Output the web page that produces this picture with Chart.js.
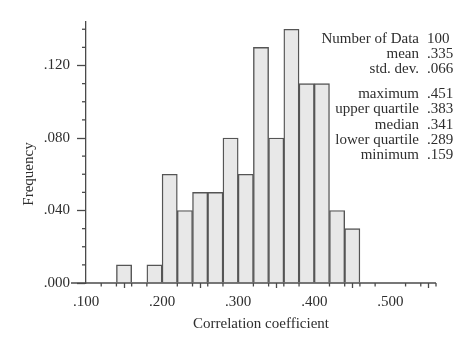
<!DOCTYPE html>
<html>
<head>
<meta charset="utf-8">
<script src="https://cdn.jsdelivr.net/npm/chart.js@4.4.1/dist/chart.umd.min.js"></script>
<style>
  html, body { margin: 0; padding: 0; background: #fff; }
  #wrap { width: 474px; height: 351px; }
</style>
</head>
<body>
<div id="wrap"><canvas id="histChart"></canvas></div>
<script>
// Histogram bins (lower edge, width .020) and relative frequencies
const binStarts = [0.14, 0.16, 0.18, 0.20, 0.22, 0.24, 0.26, 0.28, 0.30, 0.32, 0.34, 0.36, 0.38, 0.40, 0.42, 0.44];
const frequencies = [0.010, 0, 0.010, 0.060, 0.040, 0.050, 0.050, 0.080, 0.060, 0.130, 0.080, 0.140, 0.110, 0.110, 0.040, 0.030];
const binWidth = 0.02;

// Axis ticks
const xTickValues = [0.1, 0.2, 0.3, 0.4, 0.5];
const xTickLabels = ['.100', '.200', '.300', '.400', '.500'];
const yTickValues = [0, 0.04, 0.08, 0.12];
const yTickLabels = ['.000', '.040', '.080', '.120'];

// Summary statistics box
const statLabels = ['Number of Data', 'mean', 'std. dev.', 'maximum', 'upper quartile', 'median', 'lower quartile', 'minimum'];
const statValues = ['100', '.335', '.066', '.451', '.383', '.341', '.289', '.159'];

const AXIS_COLOR = '#4a4a4a';
const TEXT_COLOR = '#2e2e2e';
const FONT = '"Liberation Serif", "DejaVu Serif", serif';
const FONT_SIZE = 15;

const histData = binStarts.map((s, i) => ({ x: +(s + binWidth / 2).toFixed(3), y: frequencies[i] }));

// minor ticks, the extended zero line, stats text and y title
const decorPlugin = {
    id: 'decor',
    afterDraw(chart) {
        const ctx = chart.ctx;
        const xs = chart.scales.x;
        const ys = chart.scales.y;
        const area = chart.chartArea;
        ctx.save();
        ctx.strokeStyle = AXIS_COLOR;
        ctx.lineWidth = 1.3;

        // x-axis line running a bit left of the y-axis
        const y0 = ys.getPixelForValue(0);
        ctx.beginPath();
        ctx.moveTo(area.left - 15, y0);
        ctx.lineTo(area.right, y0);
        ctx.stroke();

        // minor ticks on x every .020
        for (let v = 0.12; v < 0.561; v += 0.02) {
            if (Math.abs(v * 10 - Math.round(v * 10)) < 1e-6) continue;
            const px = xs.getPixelForValue(v);
            ctx.beginPath();
            ctx.moveTo(px, y0);
            ctx.lineTo(px, y0 + 3.5);
            ctx.stroke();
        }
        // minor ticks on y every .010
        for (let v = 0.01; v < 0.145; v += 0.01) {
            if (Math.abs(v / 0.04 - Math.round(v / 0.04)) < 1e-6) continue;
            const py = ys.getPixelForValue(v);
            ctx.beginPath();
            ctx.moveTo(area.left, py);
            ctx.lineTo(area.left - 4, py);
            ctx.stroke();
        }

        // stats block
        ctx.fillStyle = TEXT_COLOR;
        ctx.font = FONT_SIZE + 'px ' + FONT;
        ctx.textBaseline = 'middle';
        const rows = [39, 54, 69, 94, 109, 125, 140, 155];
        statLabels.forEach((lab, i) => {
            ctx.textAlign = 'right';
            ctx.fillText(lab, 419, rows[i]);
            ctx.textAlign = 'left';
            ctx.fillText(statValues[i], 427, rows[i]);
        });

        // y axis title
        ctx.translate(29, 174);
        ctx.rotate(-Math.PI / 2);
        ctx.textAlign = 'center';
        ctx.fillText('Frequency', 0, 0);
        ctx.restore();
    }
};

const ctx = document.getElementById('histChart').getContext('2d');
const histChart = new Chart(ctx, {
    type: 'bar',
    data: {
        datasets: [{
            label: 'Frequency',
            data: histData,
            backgroundColor: '#e8e8e8',
            borderColor: '#555555',
            borderWidth: 1.4,
            barPercentage: 1,
            categoryPercentage: 1,
            borderSkipped: 'bottom'
        }]
    },
    options: {
        responsive: true,
        maintainAspectRatio: false,
        animation: false,
        layout: { padding: { top: 22, right: 38, bottom: 14, left: 0 } },
        plugins: {
            legend: { display: false },
            tooltip: { enabled: false }
        },
        scales: {
            x: {
                type: 'linear',
                min: 0.1,
                max: 0.56,
                offset: false,
                afterBuildTicks: (scale) => { scale.ticks = xTickValues.map(v => ({ value: v })); },
                afterFit: (scale) => { scale.height = 54; },
                ticks: {
                    callback: (v) => xTickLabels[xTickValues.findIndex(t => Math.abs(t - v) < 1e-6)],
                    color: TEXT_COLOR,
                    font: { family: FONT, size: FONT_SIZE },
                    padding: 5,
                    maxRotation: 0,
                    autoSkip: false
                },
                grid: {
                    drawOnChartArea: false,
                    tickLength: 5,
                    tickColor: AXIS_COLOR,
                    tickWidth: 1.3
                },
                border: { display: false },
                title: {
                    display: true,
                    text: 'Correlation coefficient',
                    color: TEXT_COLOR,
                    font: { family: FONT, size: FONT_SIZE },
                    padding: { top: 0, bottom: 4 }
                }
            },
            y: {
                min: 0,
                max: 0.144,
                afterBuildTicks: (scale) => { scale.ticks = yTickValues.map(v => ({ value: v })); },
                afterFit: (scale) => { scale.width = 86; },
                ticks: {
                    callback: (v) => yTickLabels[yTickValues.findIndex(t => Math.abs(t - v) < 1e-6)],
                    color: TEXT_COLOR,
                    font: { family: FONT, size: FONT_SIZE },
                    padding: 7
                },
                grid: {
                    drawOnChartArea: false,
                    tickLength: 9,
                    tickColor: AXIS_COLOR,
                    tickWidth: 1.3
                },
                border: { display: true, color: AXIS_COLOR, width: 1.3 }
            }
        }
    },
    plugins: [decorPlugin]
});
</script>
</body>
</html>
